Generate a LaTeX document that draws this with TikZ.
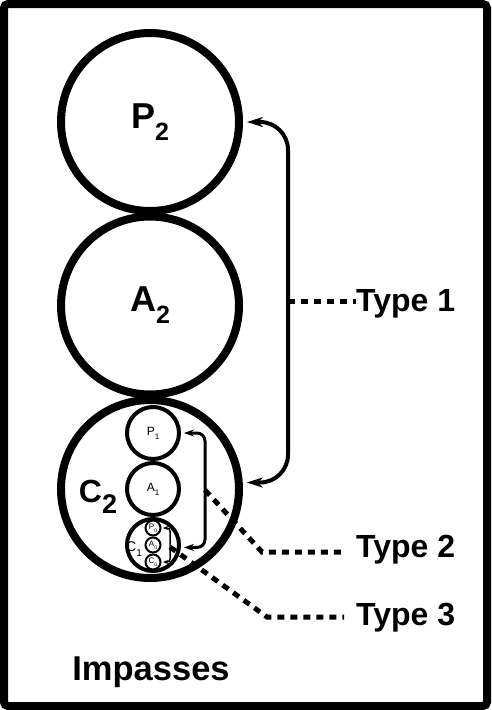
\documentclass[tikz,border=0pt]{standalone}
\usepackage{fontspec}
\setmainfont{Liberation Sans}
\usepackage{tikz}
\usetikzlibrary{positioning,arrows.meta}
\newcommand{\ix}[3]{#1\raisebox{-.33em}{\fontsize{#3}{#3}\selectfont #2}}
\tikzset{
  bigcirc/.style={circle,draw,line width=8pt,minimum size=178pt,inner sep=0pt,font=\fontsize{36}{36}\selectfont\bfseries},
  midcirc/.style={circle,draw,line width=4pt,minimum size=52pt,inner sep=0pt,font=\fontsize{12}{12}\selectfont},
  smallcirc/.style={circle,draw,line width=2pt,minimum size=15pt,inner sep=0pt,font=\fontsize{8}{8}\selectfont},
  typelbl/.style={anchor=base west,inner sep=0pt,font=\fontsize{32}{32}\selectfont\bfseries},
  leader/.style={line width=5pt,dash pattern=on 7pt off 6pt},
  brace1/.style={<->,line width=4pt,rounded corners=28pt,shorten <=4pt,shorten >=4pt,>={Stealth[length=16pt,width=10pt]}},
  brace2/.style={<->,line width=3pt,rounded corners=8pt,shorten <=3pt,shorten >=3pt,>={Stealth[length=10pt,width=7pt]}},
  brace3/.style={<->,line width=1.5pt,rounded corners=3pt,shorten <=1.5pt,shorten >=1.5pt,>={Stealth[length=5pt,width=4pt]}}
}
\begin{document}
\begin{tikzpicture}[x=1pt,y=-1pt]
  \useasboundingbox (0,0) rectangle (491,710);
  \draw[line width=8pt,rounded corners=4pt] (4,4) rectangle (487,706);
  \node[bigcirc] (P2) at (150,122) {\ix{P}{2}{25}};
  \node[bigcirc,below=-2.5pt of P2] (A2) {\ix{A}{2}{25}};
  \node[bigcirc,below=-2.5pt of A2] (C2) {};
  \node[font=\fontsize{32}{32}\selectfont\bfseries] (C2lbl) at ([shift={(-52pt,-8pt)}]C2.center) {\ix{C}{2}{27}};
  \node[midcirc] (A1) at ([xshift=3pt]C2.center) {\ix{A}{1}{8}};
  \node[midcirc,above=0pt of A1] (P1) {\ix{P}{1}{8}};
  \node[midcirc,below=0pt of A1] (C1) {};
  \node[font=\fontsize{14}{14}\selectfont] (C1lbl) at ([shift={(-19pt,-4pt)}]C1.center) {\ix{C}{1}{10}};
  \node[smallcirc] (A0) at (C1.center) {\ix{A}{0}{5}};
  \node[smallcirc,above=0pt of A0] (P0) {\ix{P}{0}{5}};
  \node[smallcirc,below=0pt of A0] (C0) {\ix{C}{0}{5}};
  \node[typelbl] (t1) at (356,311) {Type 1};
  \node[typelbl] (t2) at (356,557) {Type 2};
  \node[typelbl] (t3) at (356,625) {Type 3};
  \node[anchor=base,inner sep=0pt,font=\fontsize{34.5}{34.5}\selectfont\bfseries] (imp) at (151,680) {Impasses};
  \coordinate (b1) at (288,301);
  \coordinate (b2) at (205,490);
  \coordinate (b3) at (170,547);
  \coordinate (k2) at (262,552);
  \coordinate (k3) at (267,617);
  \draw[brace1] (P2.east) -| (b1) |- (C2.4);
  \draw[brace2] (P1.east) -| (b2) |- (C1.-5);
  \draw[brace3] (P0.east) -| (b3) |- (C0.east);
  \draw[leader] (b1) -- (b1 -| t1.west);
  \draw[leader,shorten >=12pt] (b2) -- (k2) -- (k2 -| t2.west);
  \draw[leader,shorten >=12pt] (b3) -- (k3) -- (k3 -| t3.west);
\end{tikzpicture}
\end{document}
